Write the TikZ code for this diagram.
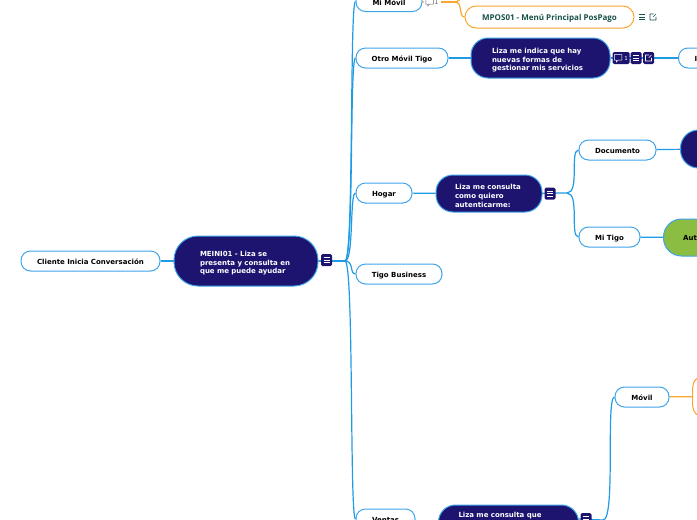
\documentclass[tikz,border=0pt]{standalone}
\usepackage{fontspec}
\setmainfont{DejaVu Sans}
\newfontfamily\mposfont{Open Sans}
\usetikzlibrary{backgrounds}
\definecolor{linkblue}{HTML}{1F9BE3}
\definecolor{edgeblue}{HTML}{3FA4EA}
\definecolor{navy}{HTML}{1D1470}
\definecolor{leaf}{HTML}{8BBD42}
\definecolor{amber}{HTML}{F9A730}
\definecolor{pine}{HTML}{17504A}
\tikzset{
  tag/.style={draw=edgeblue,fill=white,line width=1pt,rounded corners=9.5pt,minimum height=20pt,
    inner sep=0pt,text height=7pt,text depth=0pt,font=\fontsize{7}{8}\selectfont\bfseries,text=black},
  topic/.style={draw=edgeblue,fill=navy,line width=1pt,rounded corners=17pt,text=white,align=left,
    inner ysep=0pt,font=\fontsize{7}{8.7}\selectfont\bfseries,execute at begin node={\rule{0pt}{10pt}}},
  badge/.style={fill=navy,rounded corners=1.5pt,minimum width=11pt,minimum height=12pt,inner sep=0pt},
  wire/.style={linkblue,line width=1.2pt},
  bough/.style={wire,to path={.. controls +(9,0) and +(-6,0) .. (\tikztotarget)}},
  twig/.style={wire,to path={.. controls +(13,0) and +(-9,0) .. (\tikztotarget)}}
}
% three bars of the menu mark
\newcommand{\barsmark}[2]{\draw[#2,line width=.6pt] (#1)++(-3,-2.5) -- ++(6,0) ++(-6,2.5) -- ++(6,0) ++(-6,2.5) -- ++(6,0);}
% small square with an arrow out of it
\newcommand{\linkmark}[2]{\draw[#2,line width=.55pt] (#1)++(.5,-3) -- ++(-3.5,0) -- ++(0,6) -- ++(6,0) -- ++(0,-3.2) (#1)++(.3,-.2) -- ++(2.7,-2.8);}
% speech bubble
\newcommand{\talkmark}[2]{\draw[#2,line width=.5pt] (#1)++(2,-3.5) -- ++(7.5,0) -- ++(0,5.5) -- ++(-3.7,0) -- ++(-1.8,2) -- ++(0,-2) -- ++(-2,0) -- cycle;}
\begin{document}
\begin{tikzpicture}[x=1pt,y=-1pt]
  \useasboundingbox (0,0) rectangle (697,520);
  % first row
  \node[tag,minimum width=139pt] (start) at (90.5,261) {Cliente Inicia Conversación};
  \node[topic,minimum height=50pt,minimum width=144pt,rounded corners=24pt,text width=92pt,inner xsep=26pt] (meini) at (246,261)
    {MEINI01 - Liza se\\presenta y consulta en\\que me puede ayudar};
  \node[badge] (meinimenu) at (326.5,260) {};
  \coordinate (hub) at (345,261);
  % second row
  \node[tag,minimum width=66pt] (mimovil) at (389,1.5) {Mi Móvil};
  \node[tag,minimum width=92pt] (otro) at (402,58) {Otro Móvil Tigo};
  \node[tag,minimum width=56pt] (hogar) at (384,193) {Hogar};
  \node[tag,minimum width=86pt] (business) at (399,274) {Tigo Business};
  \node[tag,minimum width=59pt] (ventas) at (385.5,519) {Ventas};
  % mi movil
  \node[inner sep=0pt,minimum width=14pt,minimum height=12pt] (mimoviltalk) at (431,2) {};
  \coordinate (fork) at (455,2);
  \coordinate (forkup) at (470,-12);
  \node[draw=amber,fill=white,line width=1pt,rounded corners=11pt,minimum width=169pt,minimum height=22pt,
    inner sep=0pt,text height=6.6pt,text depth=0pt,text=pine,font=\mposfont\fontsize{8}{9}\selectfont\bfseries] (mpos) at (549.5,17) {MPOS01 - Menú Principal PosPago};
  % otro movil
  \node[topic,minimum height=40pt,minimum width=139pt,text width=97pt,inner xsep=21pt] (nuevas) at (540.5,58)
    {Liza me indica que hay\\nuevas formas de\\gestionar mis servicios};
  \node[badge,minimum width=17pt] (nuevastalk) at (621,58) {};
  \node[badge] (nuevasmenu) at (636,58) {};
  \node[badge] (nuevaslink) at (648.5,58) {};
  \node[tag,minimum width=70pt,anchor=west,align=left,text width=70pt] (otroleaf) at (678,58) {\hspace{16pt}I};
  % hogar
  \node[topic,minimum height=37pt,minimum width=106pt,text width=68pt,inner xsep=19pt] (autentica) at (489,193.5)
    {Liza me consulta\\como quiero\\autenticarme:};
  \node[badge] (autenticamenu) at (550,193.5) {};
  \coordinate (hogarhub) at (567,193);
  \node[tag,minimum width=77pt] (documento) at (617.5,150) {Documento};
  \node[tag,minimum width=61pt] (mitigo) at (609.5,237) {Mi Tigo};
  \node[topic,minimum height=38pt,minimum width=60pt,rounded corners=18pt,anchor=west,execute at begin node={}] (docleaf) at (680,149) {};
  \node[draw=edgeblue,fill=leaf,line width=1pt,rounded corners=18pt,minimum height=37pt,minimum width=60pt,anchor=west] (tigoleaf) at (663,237.5) {};
  \node[anchor=west,inner sep=0pt,font=\fontsize{7}{8}\selectfont\bfseries] (tigotext) at (683,237.5) {Aut};
  % ventas
  \node[topic,minimum height=42pt,minimum width=139pt,text width=100pt,inner xsep=20pt] (compra) at (508.5,526)
    {Liza me consulta que\\\mbox{}\\\mbox{}\\\mbox{}};
  \node[badge] (compramenu) at (586,519) {};
  \coordinate (ventashub) at (603,520);
  \node[tag,minimum width=54pt] (movil) at (642,397) {Móvil};
  \node[draw=amber,fill=white,line width=1pt,rounded corners=13pt,minimum height=43pt,minimum width=50pt,anchor=west] (movilleaf) at (692,396.5) {};
  % marks
  \barsmark{meinimenu}{white}
  \barsmark{nuevasmenu}{white}
  \barsmark{autenticamenu}{white}
  \barsmark{compramenu}{white}
  \linkmark{nuevaslink}{white}
  \talkmark{mimoviltalk.west}{black!60}
  \talkmark{nuevastalk.west}{white}
  \node[inner sep=0pt,font=\fontsize{6.4}{8}\selectfont,text=black!60] (mimovilone) at (436.5,2) {1};
  \node[inner sep=0pt,font=\fontsize{5.5}{7}\selectfont,text=white] (nuevasone) at (626,58.5) {1};
  \node[inner sep=0pt,minimum size=12pt] (mposmenu) at (642,17) {};
  \node[inner sep=0pt,minimum size=12pt] (mposlink) at (653,17) {};
  \barsmark{mposmenu}{pine}
  \linkmark{mposlink}{pine}
  \begin{scope}[on background layer]
    \draw[wire] (start) -- (meini);
    \draw[wire] (meini) -- (hub);
    \draw[bough] (hub) to (mimovil.west);
    \draw[bough] (hub) to (otro.west);
    \draw[bough] (hub) to (hogar.west);
    \draw[bough] (hub) to (business.west);
    \draw[bough] (hub) to (ventas.west);
    \draw[wire] (otro) -- (nuevas);
    \draw[wire] (nuevas) -- (otroleaf);
    \draw[wire] (hogar) -- (autentica);
    \draw[wire] (autentica) -- (hogarhub);
    \draw[twig] (hogarhub) to (documento.west);
    \draw[twig] (hogarhub) to (mitigo.west);
    \draw[wire] (documento) -- (docleaf);
    \draw[wire] (mitigo) -- (tigoleaf);
    \draw[wire] (ventas) -- (compra);
    \draw[wire] (compra.east |- compramenu) -- (ventashub);
    \draw[twig] (ventashub) to (movil.west);
    \draw[amber,line width=1.2pt] (mimovil) -- (mimoviltalk);
    \draw[amber,line width=1.2pt] (mimoviltalk.east) ++(3,0) -- (fork);
    \draw[amber,line width=1.2pt] (fork) .. controls +(6,0) and +(-3,0) .. (forkup);
    \draw[amber,line width=1.2pt] (fork) .. controls +(8,0) and +(-6,0) .. (mpos.west);
    \draw[amber,line width=1.2pt] (movil) -- (movilleaf);
  \end{scope}
\end{tikzpicture}
\end{document}
